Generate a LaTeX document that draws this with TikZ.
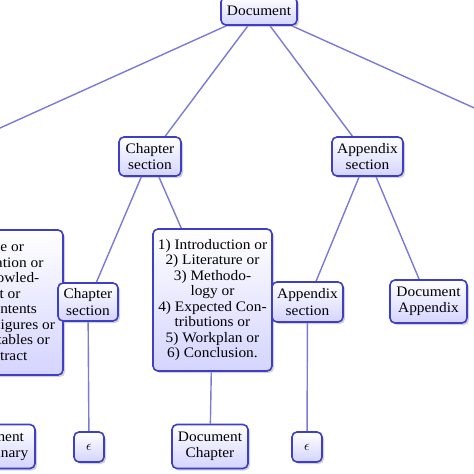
\documentclass[tikz,border=0pt]{standalone}
\usepackage{fontspec}
\setmainfont{Liberation Serif}[FakeStretch=1.06]
\usetikzlibrary{shadows,backgrounds}
\definecolor{nodeborder}{RGB}{62,62,200}
\definecolor{nodefill}{RGB}{212,212,255}
\definecolor{edgecol}{RGB}{122,122,218}
\tikzset{
  treebox/.style={draw=nodeborder, line width=1.6bp, rounded corners=5bp,
    top color=white, bottom color=nodefill,
    drop shadow={shadow xshift=2bp, shadow yshift=-2bp, fill=black!35},
    align=center, inner sep=1bp,
    font=\fontsize{14.5bp}{16.5bp}\selectfont},
  bigbox/.style={treebox, font=\fontsize{14.5bp}{15.5bp}\selectfont},
  treeedge/.style={draw=edgecol, line width=1.4bp}
}
\begin{document}
\begin{tikzpicture}[x=1bp,y=-1bp]
\useasboundingbox (0,0) rectangle (474,474);
% level 0
\node[treebox, minimum width=76bp, minimum height=28bp] (doc) at (259,11) {Document};
% level 1
\coordinate (left1) at (-63,156.5);
\coordinate (right1) at (582,156.5);
\node[treebox, minimum width=62bp, minimum height=39bp] (chap1) at (150,156.5) {Chapter\\section};
\node[treebox, minimum width=71bp, minimum height=39bp] (app1) at (367.5,156.5) {Appendix\\section};
% level 2
\node[bigbox, minimum width=140bp, minimum height=145bp] (pre) at (-7,302.5)
  {1) Title or\\2) Dedication or\\3) Acknowled-\\gment or\\\hphantom{or }4) Contents\\5) List of Figures or\\6) List of tables or\\7) Abstract};
\node[treebox, minimum width=60bp, minimum height=38bp] (chap2) at (88,302) {Chapter\\section};
\node[bigbox, minimum width=119bp, minimum height=142bp] (intro) at (212.5,300)
  {1) Introduction or\\2) Literature or\\3) Methodo-\\logy or\\4) Expected Con-\\tributions or\\5) Workplan or\\6) Conclusion.};
\node[treebox, minimum width=71bp, minimum height=40bp] (app2) at (307.5,302) {Appendix\\section};
\node[treebox, minimum width=77bp, minimum height=43bp] (docapp) at (428.5,301.5) {Document\\Appendix};
% level 3
\node[treebox, minimum width=86bp, minimum height=44bp] (docpre) at (-8,446.5) {Document\\Preliminary};
\node[treebox, minimum width=30bp, minimum height=30bp] (eps1) at (89,447) {$\epsilon$};
\node[treebox, minimum width=76bp, minimum height=44bp] (docchap) at (210,446.5) {Document\\Chapter};
\node[treebox, minimum width=30bp, minimum height=30bp] (eps2) at (307,447) {$\epsilon$};
% edges
\begin{scope}[on background layer]
\fill[white] (0,0) rectangle (474,474);
\draw[treeedge] (doc) -- (left1);
\draw[treeedge] (doc) -- (chap1);
\draw[treeedge] (doc) -- (app1);
\draw[treeedge] (doc) -- (right1);
\draw[treeedge] (chap1) -- (chap2);
\draw[treeedge] (chap1) -- (intro);
\draw[treeedge] (app1) -- (app2);
\draw[treeedge] (app1) -- (docapp);
\draw[treeedge] (pre) -- (docpre);
\draw[treeedge] (chap2) -- (eps1);
\draw[treeedge] (intro) -- (docchap);
\draw[treeedge] (app2) -- (eps2);
\end{scope}
\end{tikzpicture}
\end{document}
